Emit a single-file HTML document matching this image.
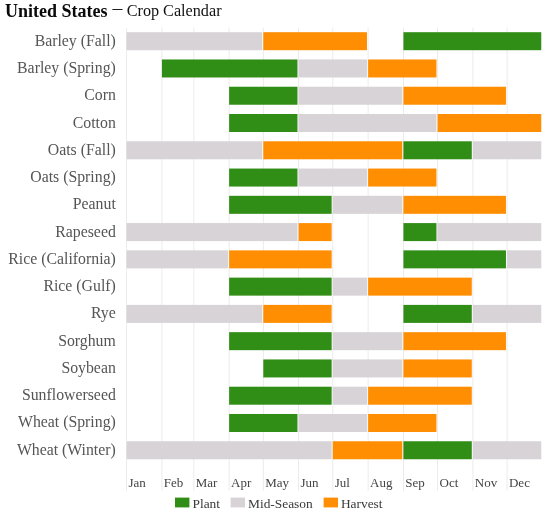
<!DOCTYPE html>
<html><head><meta charset="utf-8"><title>United States - Crop Calendar</title>
<style>
html,body{margin:0;padding:0;background:#fff;}
body{width:550px;height:515px;overflow:hidden;position:relative;font-family:"Liberation Serif","Times New Roman",serif;}
svg{position:absolute;left:0;top:0;}
.t1{font-weight:bold;font-size:18px;fill:#0a0a0a;}
.t2{font-size:16.2px;fill:#111;}
.lab{font-size:15.8px;fill:#555;text-anchor:end;}
.mon{font-size:13px;fill:#444;}
.leg{font-size:13.4px;fill:#3a3a3a;}
</style></head><body>
<svg width="550" height="515" viewBox="0 0 550 515" font-family="'Liberation Serif','Times New Roman',serif">

<text class="t1" x="4.9" y="16.9">United States</text>
<text id="dash" x="112.4" y="14.4" style="font-size:19.8px;fill:#111">–</text>
<text class="t2" x="126.7" y="16.3">Crop Calendar</text>
<rect x="126.15" y="27.5" width="0.9" height="463.2" fill="#e9e9e9"/>
<rect x="161.47" y="27.5" width="0.9" height="463.2" fill="#e9e9e9"/>
<rect x="193.36" y="27.5" width="0.9" height="463.2" fill="#e9e9e9"/>
<rect x="228.68" y="27.5" width="0.9" height="463.2" fill="#e9e9e9"/>
<rect x="262.85" y="27.5" width="0.9" height="463.2" fill="#e9e9e9"/>
<rect x="298.17" y="27.5" width="0.9" height="463.2" fill="#e9e9e9"/>
<rect x="332.35" y="27.5" width="0.9" height="463.2" fill="#e9e9e9"/>
<rect x="367.66" y="27.5" width="0.9" height="463.2" fill="#e9e9e9"/>
<rect x="402.98" y="27.5" width="0.9" height="463.2" fill="#e9e9e9"/>
<rect x="437.15" y="27.5" width="0.9" height="463.2" fill="#e9e9e9"/>
<rect x="472.47" y="27.5" width="0.9" height="463.2" fill="#e9e9e9"/>
<rect x="506.64" y="27.5" width="0.9" height="463.2" fill="#e9e9e9"/>
<rect x="126.60" y="32.20" width="135.56" height="18.00" fill="#d7d3d7"/>
<rect x="263.30" y="32.20" width="103.67" height="18.00" fill="#ff8e03"/>
<rect x="403.43" y="32.20" width="137.84" height="18.00" fill="#308d15"/>
<text class="lab" x="115.8" y="45.70">Barley (Fall)</text>
<rect x="161.92" y="59.47" width="135.56" height="18.00" fill="#308d15"/>
<rect x="298.62" y="59.47" width="68.35" height="18.00" fill="#d7d3d7"/>
<rect x="368.11" y="59.47" width="68.35" height="18.00" fill="#ff8e03"/>
<text class="lab" x="115.8" y="72.97">Barley (Spring)</text>
<rect x="229.13" y="86.74" width="68.35" height="18.00" fill="#308d15"/>
<rect x="298.62" y="86.74" width="103.67" height="18.00" fill="#d7d3d7"/>
<rect x="403.43" y="86.74" width="102.53" height="18.00" fill="#ff8e03"/>
<text class="lab" x="115.8" y="100.24">Corn</text>
<rect x="229.13" y="114.01" width="68.35" height="18.00" fill="#308d15"/>
<rect x="298.62" y="114.01" width="137.84" height="18.00" fill="#d7d3d7"/>
<rect x="437.60" y="114.01" width="103.67" height="18.00" fill="#ff8e03"/>
<text class="lab" x="115.8" y="127.51">Cotton</text>
<rect x="126.60" y="141.28" width="135.56" height="18.00" fill="#d7d3d7"/>
<rect x="263.30" y="141.28" width="138.98" height="18.00" fill="#ff8e03"/>
<rect x="403.43" y="141.28" width="68.35" height="18.00" fill="#308d15"/>
<rect x="472.92" y="141.28" width="68.35" height="18.00" fill="#d7d3d7"/>
<text class="lab" x="115.8" y="154.78">Oats (Fall)</text>
<rect x="229.13" y="168.55" width="68.35" height="18.00" fill="#308d15"/>
<rect x="298.62" y="168.55" width="68.35" height="18.00" fill="#d7d3d7"/>
<rect x="368.11" y="168.55" width="68.35" height="18.00" fill="#ff8e03"/>
<text class="lab" x="115.8" y="182.05">Oats (Spring)</text>
<rect x="229.13" y="195.82" width="102.53" height="18.00" fill="#308d15"/>
<rect x="332.80" y="195.82" width="69.49" height="18.00" fill="#d7d3d7"/>
<rect x="403.43" y="195.82" width="102.53" height="18.00" fill="#ff8e03"/>
<text class="lab" x="115.8" y="209.32">Peanut</text>
<rect x="126.60" y="223.09" width="170.88" height="18.00" fill="#d7d3d7"/>
<rect x="298.62" y="223.09" width="33.04" height="18.00" fill="#ff8e03"/>
<rect x="403.43" y="223.09" width="33.04" height="18.00" fill="#308d15"/>
<rect x="437.60" y="223.09" width="103.67" height="18.00" fill="#d7d3d7"/>
<text class="lab" x="115.8" y="236.59">Rapeseed</text>
<rect x="126.60" y="250.36" width="101.39" height="18.00" fill="#d7d3d7"/>
<rect x="229.13" y="250.36" width="102.53" height="18.00" fill="#ff8e03"/>
<rect x="403.43" y="250.36" width="102.53" height="18.00" fill="#308d15"/>
<rect x="507.09" y="250.36" width="34.18" height="18.00" fill="#d7d3d7"/>
<text class="lab" x="115.8" y="263.86">Rice (California)</text>
<rect x="229.13" y="277.63" width="102.53" height="18.00" fill="#308d15"/>
<rect x="332.80" y="277.63" width="34.18" height="18.00" fill="#d7d3d7"/>
<rect x="368.11" y="277.63" width="103.67" height="18.00" fill="#ff8e03"/>
<text class="lab" x="115.8" y="291.13">Rice (Gulf)</text>
<rect x="126.60" y="304.90" width="135.56" height="18.00" fill="#d7d3d7"/>
<rect x="263.30" y="304.90" width="68.35" height="18.00" fill="#ff8e03"/>
<rect x="403.43" y="304.90" width="68.35" height="18.00" fill="#308d15"/>
<rect x="472.92" y="304.90" width="68.35" height="18.00" fill="#d7d3d7"/>
<text class="lab" x="115.8" y="318.40">Rye</text>
<rect x="229.13" y="332.17" width="102.53" height="18.00" fill="#308d15"/>
<rect x="332.80" y="332.17" width="69.49" height="18.00" fill="#d7d3d7"/>
<rect x="403.43" y="332.17" width="102.53" height="18.00" fill="#ff8e03"/>
<text class="lab" x="115.8" y="345.67">Sorghum</text>
<rect x="263.30" y="359.44" width="68.35" height="18.00" fill="#308d15"/>
<rect x="332.80" y="359.44" width="69.49" height="18.00" fill="#d7d3d7"/>
<rect x="403.43" y="359.44" width="68.35" height="18.00" fill="#ff8e03"/>
<text class="lab" x="115.8" y="372.94">Soybean</text>
<rect x="229.13" y="386.71" width="102.53" height="18.00" fill="#308d15"/>
<rect x="332.80" y="386.71" width="34.18" height="18.00" fill="#d7d3d7"/>
<rect x="368.11" y="386.71" width="103.67" height="18.00" fill="#ff8e03"/>
<text class="lab" x="115.8" y="400.21">Sunflowerseed</text>
<rect x="229.13" y="413.98" width="68.35" height="18.00" fill="#308d15"/>
<rect x="298.62" y="413.98" width="68.35" height="18.00" fill="#d7d3d7"/>
<rect x="368.11" y="413.98" width="68.35" height="18.00" fill="#ff8e03"/>
<text class="lab" x="115.8" y="427.48">Wheat (Spring)</text>
<rect x="126.60" y="441.25" width="205.06" height="18.00" fill="#d7d3d7"/>
<rect x="332.80" y="441.25" width="69.49" height="18.00" fill="#ff8e03"/>
<rect x="403.43" y="441.25" width="68.35" height="18.00" fill="#308d15"/>
<rect x="472.92" y="441.25" width="68.35" height="18.00" fill="#d7d3d7"/>
<text class="lab" x="115.8" y="454.75">Wheat (Winter)</text>
<text class="mon" x="128.50" y="487">Jan</text>
<text class="mon" x="163.82" y="487">Feb</text>
<text class="mon" x="195.71" y="487">Mar</text>
<text class="mon" x="231.03" y="487">Apr</text>
<text class="mon" x="265.20" y="487">May</text>
<text class="mon" x="300.52" y="487">Jun</text>
<text class="mon" x="334.70" y="487">Jul</text>
<text class="mon" x="370.01" y="487">Aug</text>
<text class="mon" x="405.33" y="487">Sep</text>
<text class="mon" x="439.50" y="487">Oct</text>
<text class="mon" x="474.82" y="487">Nov</text>
<text class="mon" x="508.99" y="487">Dec</text>
<rect x="175" y="497.6" width="14.4" height="9.8" fill="#308d15"/>
<text class="leg" x="192.5" y="507.9">Plant</text>
<rect x="230.6" y="497.6" width="14.4" height="9.8" fill="#d7d3d7"/>
<text class="leg" x="248.0" y="507.9">Mid-Season</text>
<rect x="323.6" y="497.6" width="14.4" height="9.8" fill="#ff8e03"/>
<text class="leg" x="340.9" y="507.9">Harvest</text>
</svg></body></html>
